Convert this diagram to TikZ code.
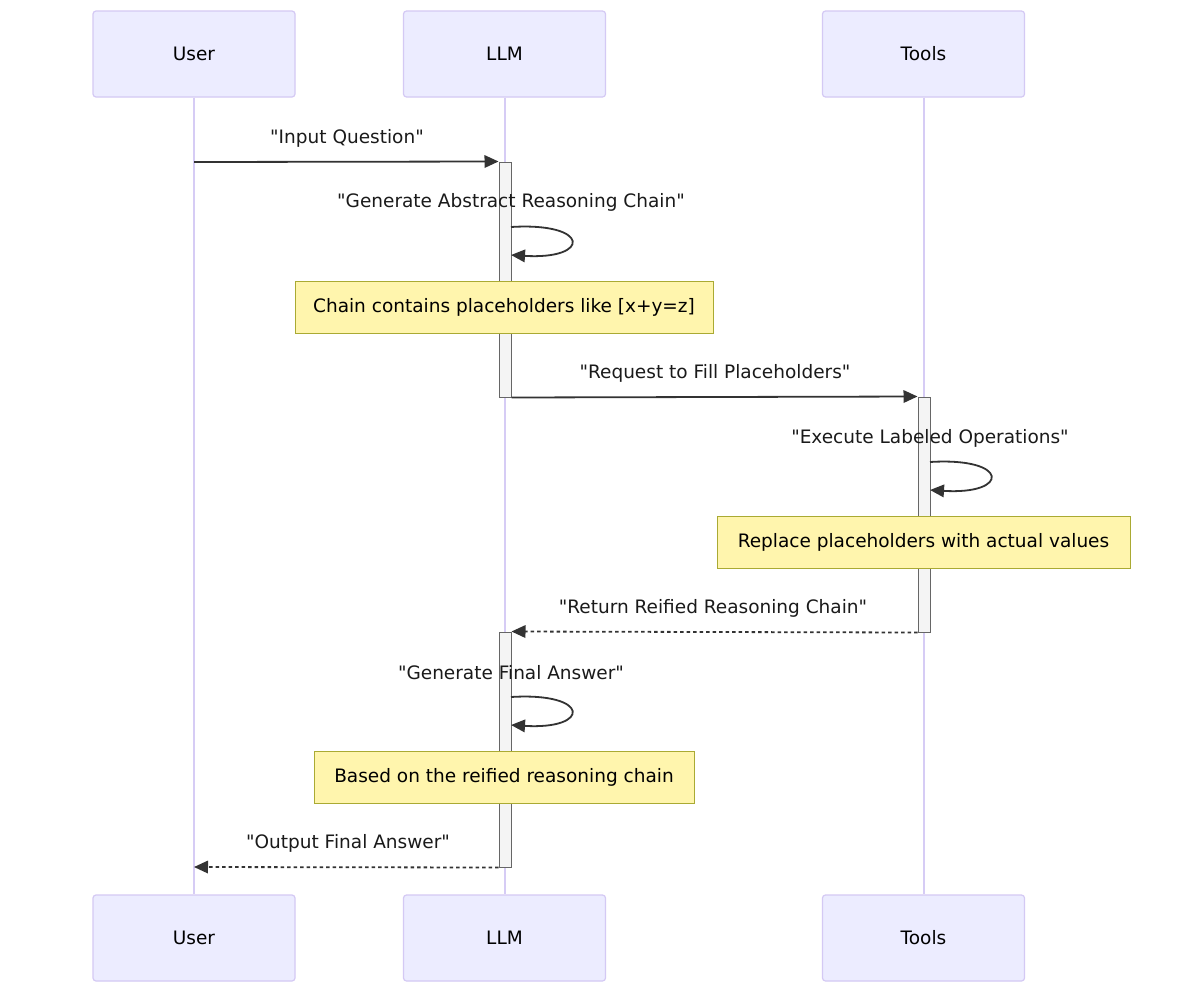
\documentclass[tikz,border=0pt]{standalone}
\usepackage{fontspec}
\setmainfont{DejaVu Sans}[Ligatures=TeXOff]
\usetikzlibrary{arrows.meta}
\definecolor{actfill}{HTML}{ECECFF}
\definecolor{actborder}{HTML}{D4C9F4}
\definecolor{lifeline}{HTML}{D6CCF5}
\definecolor{notefill}{HTML}{FFF5AD}
\definecolor{noteborder}{HTML}{AAAA33}
\definecolor{barfill}{HTML}{F4F4F4}
\definecolor{barborder}{HTML}{666666}
\definecolor{msg}{HTML}{333333}
\definecolor{txt}{HTML}{1A1A1A}
\begin{document}
\begin{tikzpicture}[x=1pt,y=-1pt,
  font=\fontsize{18.5}{22}\selectfont,
  actor/.style={draw=actborder, fill=actfill, line width=1.2pt, rounded corners=3pt,
    minimum width=202pt, minimum height=86pt, inner sep=0pt, text=black},
  bar/.style={draw=barborder, fill=barfill, line width=1pt, minimum width=12pt,
    minimum height=235pt, inner sep=0pt},
  note/.style={draw=noteborder, fill=notefill, line width=1pt, minimum height=52pt,
    inner sep=0pt, text=black},
  life/.style={draw=lifeline, line width=2pt},
  msgline/.style={draw=msg, line width=1.8pt, -{Triangle[length=14pt,width=12.5pt]}},
  ret/.style={msgline, dash pattern=on 3.5pt off 3pt},
  lbl/.style={text=txt, inner sep=0pt}
]
\fill[white] (0,0) rectangle (1200,991);
\useasboundingbox (0,0) rectangle (1200,991);

% actors
\node[actor] (user)  at (194,54) {User};
\node[actor] (llm)   at (504.5,54) {LLM};
\node[actor] (tools) at (923.5,54) {Tools};
\node[actor] (userB)  at (194,938) {User};
\node[actor] (llmB)   at (504.5,938) {LLM};
\node[actor] (toolsB) at (923.5,938) {Tools};

% lifelines
\draw[life] (user.south) -- (userB.north);
\draw[life] (llm.south) -- (llmB.north);
\draw[life] (tools.south) -- (toolsB.north);

% activations
\node[bar] (bar1) at (505,279.5) {};
\node[bar] (bar2) at (924,514.5) {};
\node[bar] (bar3) at (505,749.5) {};

% message 1
\coordinate (m1s) at (194,162);
\draw[msgline] (m1s) -- (bar1.north west);
\node[lbl] (t1) at (347,138) {"Input Question"};

% self loop 1
\coordinate (l1a) at (511,227);
\coordinate (l1b) at (511,255);
\draw[msgline] (l1a) .. controls (591,222) and (591,260) .. (l1b);
\node[lbl] (t2) at (511,202) {"Generate Abstract Reasoning Chain"};

% note 1
\node[note, minimum width=418pt] (n1) at (504,307) {Chain contains placeholders like [x+y=z]};

% message 2
\draw[msgline] (bar1.south east) -- (bar2.north west);
\node[lbl] (t3) at (715,373) {"Request to Fill Placeholders"};

% self loop 2
\coordinate (l2a) at (930,462);
\coordinate (l2b) at (930,490);
\draw[msgline] (l2a) .. controls (1010,457) and (1010,495) .. (l2b);
\node[lbl] (t4) at (930,438) {"Execute Labeled Operations"};

% note 2
\node[note, minimum width=413pt] (n2) at (923.5,542) {Replace placeholders with actual values};

% message 3 (return)
\draw[ret] (bar2.south west) -- (bar3.north east);
\node[lbl] (t5) at (713,608) {"Return Reified Reasoning Chain"};

% self loop 3
\coordinate (l3a) at (511,697);
\coordinate (l3b) at (511,725);
\draw[msgline] (l3a) .. controls (591,692) and (591,730) .. (l3b);
\node[lbl] (t6) at (511,673) {"Generate Final Answer"};

% note 3
\node[note, minimum width=380pt] (n3) at (504,777) {Based on the reified reasoning chain};

% message 4 (return)
\coordinate (m4e) at (194,867);
\draw[ret] (bar3.south west) -- (m4e);
\node[lbl] (t7) at (348,843) {"Output Final Answer"};
\end{tikzpicture}
\end{document}
